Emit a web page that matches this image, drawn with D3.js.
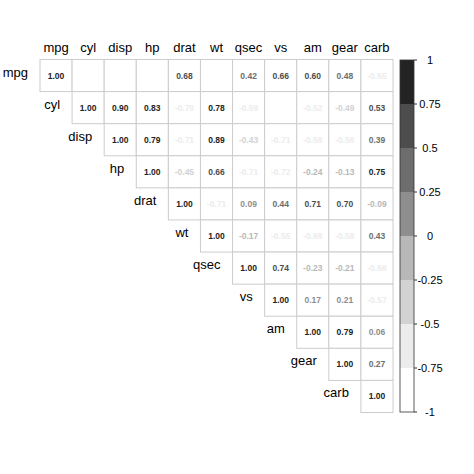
<!DOCTYPE html>
<html><head><meta charset="utf-8">
<script src="https://cdn.jsdelivr.net/npm/d3@7"></script>
<style>body{margin:0;background:#fff}</style></head>
<body><svg id="c" width="474" height="474"></svg>
<script>
const vars = ["mpg","cyl","disp","hp","drat","wt","qsec","vs","am","gear","carb"];
const rowMpg  = [1.00,-0.85,-0.85,-0.78,0.68,-0.87,0.42,0.66,0.60,0.48,-0.55];
const rowCyl  = [1.00,0.90,0.83,-0.70,0.78,-0.59,-0.81,-0.52,-0.49,0.53];
const rowDisp = [1.00,0.79,-0.71,0.89,-0.43,-0.71,-0.59,-0.56,0.39];
const rowHp   = [1.00,-0.45,0.66,-0.71,-0.72,-0.24,-0.13,0.75];
const rowDrat = [1.00,-0.71,0.09,0.44,0.71,0.70,-0.09];
const rowWt   = [1.00,-0.17,-0.55,-0.69,-0.58,0.43];
const rowQsec = [1.00,0.74,-0.23,-0.21,-0.66];
const rowVs   = [1.00,0.17,0.21,-0.57];
const rowAm   = [1.00,0.79,0.06];
const rowGear = [1.00,0.27];
const rowCarb = [1.00];
const legendTicks = [1,0.75,0.5,0.25,0,-0.25,-0.5,-0.75,-1];
const grays = ["#ffffff","#ececec","#d2d2d2","#b8b8b8","#8e8e8e","#6d6d6d","#4d4d4d","#232323"];
const rows = [rowMpg,rowCyl,rowDisp,rowHp,rowDrat,rowWt,rowQsec,rowVs,rowAm,rowGear,rowCarb];

const svg = d3.select("#c");
const font = "Liberation Sans, Arial, sans-serif";
const x = d3.scaleBand().domain(vars).range([40,393]);
const y = d3.scaleBand().domain(vars).range([59.5,412.5]);
const col = d3.scaleQuantize().domain([-1,1]).range(grays);

const cells = [];
rows.forEach((r,i)=>r.forEach((v,k)=>cells.push({r:vars[i],c:vars[i+k],v})));
const g = svg.append("g");
g.selectAll("rect").data(cells).join("rect")
 .attr("x",d=>x(d.c)).attr("y",d=>y(d.r)).attr("width",x.bandwidth()).attr("height",y.bandwidth())
 .attr("fill","#fff").attr("stroke","#cccccc").attr("stroke-width",1);
g.selectAll("text").data(cells).join("text")
 .attr("x",d=>x(d.c)+x.bandwidth()/2).attr("y",d=>y(d.r)+y.bandwidth()/2+3)
 .attr("text-anchor","middle").attr("font-family",font).attr("font-size",8.5).attr("font-weight","bold")
 .attr("fill",d=>col(d.v)).text(d=>d.v.toFixed(2));

svg.selectAll(".cl").data(vars).join("text")
 .attr("x",d=>x(d)+x.bandwidth()/2).attr("y",52).attr("text-anchor","middle")
 .attr("font-family",font).attr("font-size",13).text(d=>d);
svg.selectAll(".rl").data(vars).join("text")
 .attr("x",d=>x(d)-12).attr("y",d=>y(d)+y.bandwidth()/2+1).attr("text-anchor","end")
 .attr("font-family",font).attr("font-size",13).text(d=>d);

// colorbar (stepped)
const ly = d3.scaleLinear().domain([-1,1]).range([412,60]);
const bins = grays.map((c,i)=>({c,lo:-1+i*0.25,hi:-1+(i+1)*0.25}));
svg.selectAll(".bin").data(bins).join("rect")
 .attr("x",400).attr("width",14).attr("y",d=>ly(d.hi)).attr("height",d=>ly(d.lo)-ly(d.hi)).attr("fill",d=>d.c);
svg.append("rect").attr("x",400).attr("y",60).attr("width",14).attr("height",352)
 .attr("fill","none").attr("stroke","#333").attr("stroke-width",0.8);
svg.selectAll(".lt").data(legendTicks).join("line")
 .attr("x1",414).attr("x2",417).attr("y1",d=>ly(d)).attr("y2",d=>ly(d)).attr("stroke","#333");
svg.selectAll(".ll").data(legendTicks).join("text")
 .attr("x",430).attr("y",d=>ly(d)+4).attr("text-anchor","middle").attr("font-family",font).attr("font-size",11).text(d=>d);
</script></body></html>
